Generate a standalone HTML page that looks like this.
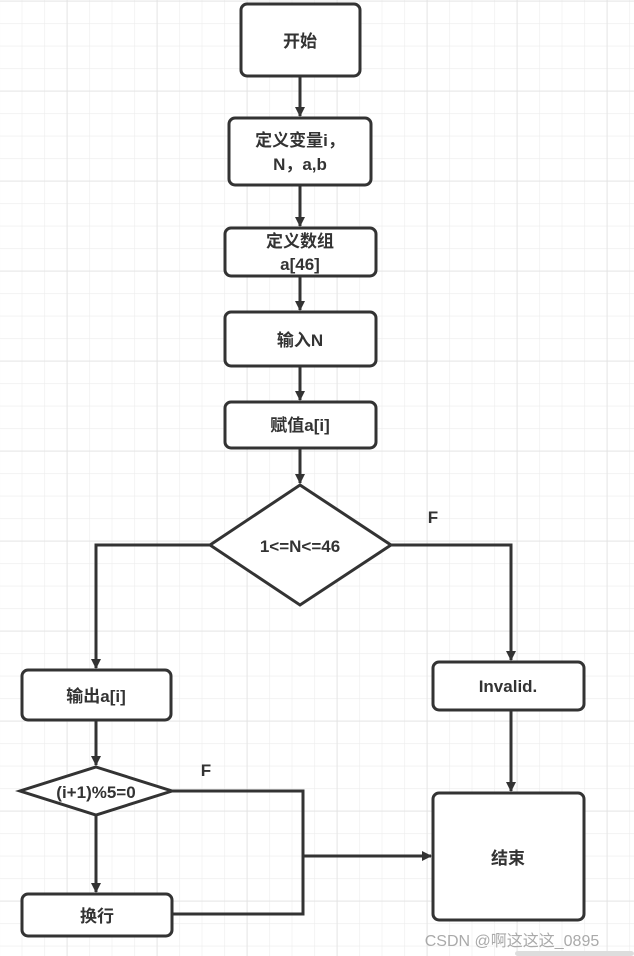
<!DOCTYPE html>
<html><head><meta charset="utf-8"><style>
html,body{margin:0;padding:0;background:#fff}
svg{display:block}
text{font-family:"Liberation Sans","Noto Sans CJK SC",sans-serif;font-weight:bold;fill:#333;font-size:17px;text-anchor:middle}
</style></head><body>
<svg width="634" height="956" viewBox="0 0 634 956" xmlns="http://www.w3.org/2000/svg">
<defs>
<pattern id="g" x="21.7" y="0.7" width="22.5" height="22.5" patternUnits="userSpaceOnUse">
<path d="M0 0H22.5M0 0V22.5" stroke="#ececec" stroke-width="1.2" fill="none"/>
</pattern>
<pattern id="G" x="66.7" y="0.7" width="90" height="90" patternUnits="userSpaceOnUse">
<path d="M0 0H90M0 0V90" stroke="#e2e2e2" stroke-width="1.6" fill="none"/>
</pattern>
<marker id="a" markerWidth="10" markerHeight="10" refX="9" refY="5" orient="auto" markerUnits="userSpaceOnUse" viewBox="0 0 10 10">
<path d="M0 0L10 5L0 10Z" fill="#333"/>
</marker>
</defs>
<rect width="634" height="956" fill="#fff"/>
<rect width="634" height="956" fill="url(#g)"/>
<rect width="634" height="956" fill="url(#G)"/>
<g fill="#fff" stroke="#333" stroke-width="3">
<rect x="241" y="4" width="119" height="72" rx="6"/>
<rect x="229" y="118" width="142" height="67" rx="6"/>
<rect x="225" y="228" width="151" height="48" rx="6"/>
<rect x="225" y="312" width="151" height="54" rx="6"/>
<rect x="225" y="402" width="151" height="46" rx="6"/>
<path d="M300 485L391 545L300 605L210 545Z"/>
<rect x="433" y="662" width="151" height="48" rx="6"/>
<rect x="433" y="793" width="151" height="127" rx="6"/>
<rect x="22" y="670" width="149" height="50" rx="6"/>
<path d="M96 767L172 791L96 815L20 791Z"/>
<rect x="22" y="894" width="150" height="42" rx="6"/>
</g>
<g stroke="#333" stroke-width="3" fill="none">
<path d="M300 76V116" marker-end="url(#a)"/>
<path d="M300 185V226" marker-end="url(#a)"/>
<path d="M300 276V310" marker-end="url(#a)"/>
<path d="M300 366V400" marker-end="url(#a)"/>
<path d="M300 448V483" marker-end="url(#a)"/>
<path d="M210 545H96V668" marker-end="url(#a)"/>
<path d="M391 545H511V660" marker-end="url(#a)"/>
<path d="M511 710V791" marker-end="url(#a)"/>
<path d="M96 720V765" marker-end="url(#a)"/>
<path d="M96 815V892" marker-end="url(#a)"/>
<path d="M172 791H303V914H172"/>
<path d="M303 856H431" marker-end="url(#a)"/>
</g>
<text x="300" y="47">开始</text>
<text x="300" y="146">定义变量i，</text>
<text x="300" y="170">N，a,b</text>
<text x="300" y="247">定义数组</text>
<text x="300" y="270">a[46]</text>
<text x="300" y="346">输入N</text>
<text x="300" y="431">赋值a[i]</text>
<text x="300" y="552">1&lt;=N&lt;=46</text>
<text x="433" y="523">F</text>
<text x="508" y="692">Invalid.</text>
<text x="508" y="864">结束</text>
<text x="96" y="702">输出a[i]</text>
<text x="96" y="798">(i+1)%5=0</text>
<text x="206" y="776">F</text>
<text x="97" y="922">换行</text>
<text x="512" y="946" style="font-weight:normal;fill:#aaa;font-size:16px">CSDN @啊这这这_0895</text>
<rect x="515" y="951" width="119" height="5" rx="3" fill="#ddd"/>
</svg>
</body></html>
